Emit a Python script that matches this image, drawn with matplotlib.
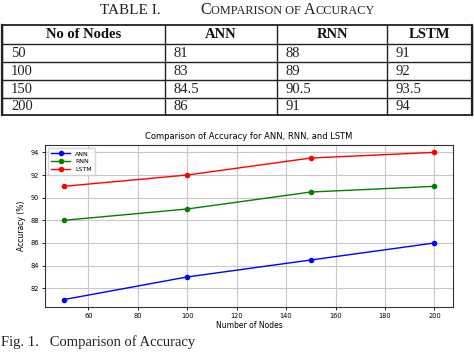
import matplotlib
matplotlib.use("Agg")
import matplotlib.pyplot as plt

# ---- data ----
nodes = [50, 100, 150, 200]
ann = [81, 83, 84.5, 86]
rnn = [88, 89, 90.5, 91]
lstm = [91, 92, 93.5, 94]
table_header = ["No of Nodes", "ANN", "RNN", "LSTM"]
table_rows = [["50", "81", "88", "91"],
              ["100", "83", "89", "92"],
              ["150", "84.5", "90.5", "93.5"],
              ["200", "86", "91", "94"]]

W, H = 474, 353
fig = plt.figure(figsize=(W / 100, H / 100), dpi=100)
fig.patch.set_facecolor("white")

# background axes in pixel coordinates for table and captions
bg = fig.add_axes([0, 0, 1, 1])
bg.set_xlim(0, W)
bg.set_ylim(H, 0)
bg.axis("off")

serif = "Liberation Serif"

# Table title with small caps
bg.text(100, 13.5, "TABLE I.", fontsize=11, family=serif, va="baseline", ha="left",
        color="#222222")
parts = [("C", 11.5), ("OMPARISON OF ", 8.8), ("A", 11.5), ("CCURACY", 8.8)]
prev = bg.text(200, 13.5, parts[0][0], fontsize=parts[0][1], family=serif, va="baseline",
               ha="left", color="#222222")
for s, fs in parts[1:]:
    prev = bg.annotate(s, xy=(1, 0), xycoords=prev, fontsize=fs, family=serif,
                       va="bottom", ha="left", color="#222222")

# Table lines
col_x = [2, 165, 277, 387, 472]
row_y = [25, 44, 62, 80, 97.5, 115]
for x in col_x:
    bg.plot([x, x], [row_y[0], row_y[-1]], color="#222222", lw=1.0, solid_capstyle="butt")
for i, y in enumerate(row_y):
    lw = 1.3 if i in (0, len(row_y) - 1) else 1.0
    bg.plot([col_x[0], col_x[-1]], [y, y], color="#222222", lw=lw, solid_capstyle="butt")
bg.plot([col_x[0], col_x[0]], [row_y[0], row_y[-1]], color="#222222", lw=1.6)
bg.plot([col_x[-1], col_x[-1]], [row_y[0], row_y[-1]], color="#222222", lw=1.6)

for j, h in enumerate(table_header):
    cx = (col_x[j] + col_x[j + 1]) / 2
    bg.text(cx, (row_y[0] + row_y[1]) / 2 + 0.5, h, fontsize=10.5, family=serif,
            fontweight="bold", ha="center", va="center", color="#111111")
for i, row in enumerate(table_rows):
    cy = (row_y[i + 1] + row_y[i + 2]) / 2 + 0.5
    for j, v in enumerate(row):
        bg.text(col_x[j] + 9, cy, v, fontsize=10.5, family=serif, ha="left", va="center",
                color="#222222")

# Caption
bg.text(1, 342, "Fig. 1.   Comparison of Accuracy", fontsize=10.5, family=serif,
        ha="left", va="center", color="#222222")

# ---- chart ----
ax = fig.add_axes([45 / W, 1 - 307 / H, 408 / W, 162 / H])
ax.plot(nodes, ann, "b-o", lw=1.0, ms=3, label="ANN")
ax.plot(nodes, rnn, "g-o", lw=1.0, ms=3, label="RNN")
ax.plot(nodes, lstm, "r-o", lw=1.0, ms=3, label="LSTM")
ax.set_title("Comparison of Accuracy for ANN, RNN, and LSTM", fontsize=6, pad=4)
ax.set_xlabel("Number of Nodes", fontsize=5.5, labelpad=1.5)
ax.set_ylabel("Accuracy (%)", fontsize=5.5, labelpad=3)
ax.tick_params(labelsize=4.8, length=2.5, width=0.6, pad=2)
ax.grid(True, color="#c8c8c8", lw=0.8)
for sp in ax.spines.values():
    sp.set_linewidth(0.8)
    sp.set_color("#333333")
ax.legend(loc="upper left", fontsize=4.5, handlelength=3, borderpad=0.5,
          labelspacing=0.35, frameon=True, fancybox=True, framealpha=0.8)

fig.savefig("out.png", dpi=100)
